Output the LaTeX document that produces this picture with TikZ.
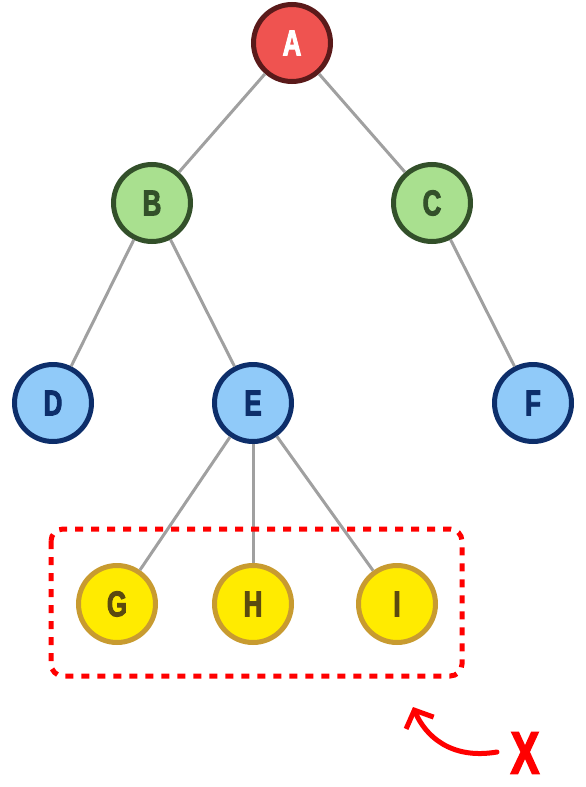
\documentclass[tikz,border=0pt]{standalone}
\usepackage{fontspec}
\newfontfamily\labelfont[FakeStretch=0.72, FakeBold=2.5]{Liberation Sans}
\usetikzlibrary{arrows.meta}
\definecolor{redfill}{HTML}{EF5350}
\definecolor{redline}{HTML}{5A1A1A}
\definecolor{greenfill}{HTML}{A9E08F}
\definecolor{greenline}{HTML}{33502A}
\definecolor{bluefill}{HTML}{90CAF9}
\definecolor{blueline}{HTML}{0D2E6A}
\definecolor{yellowfill}{HTML}{FFEB00}
\definecolor{yellowline}{HTML}{C89B30}
\definecolor{yellowtext}{HTML}{5B4A10}
\definecolor{edgegray}{HTML}{A0A0A0}
\definecolor{markred}{HTML}{FF0000}
\tikzset{
  treenode/.style={circle, minimum size=77pt, inner sep=0pt, line width=5pt,
    font=\labelfont\bfseries\fontsize{36}{36}\selectfont},
  rootnode/.style={treenode, draw=redline, fill=redfill, text=white},
  greennode/.style={treenode, draw=greenline, fill=greenfill, text=greenline},
  bluenode/.style={treenode, draw=blueline, fill=bluefill, text=blueline},
  leafnode/.style={treenode, draw=yellowline, fill=yellowfill, text=yellowtext},
  edge/.style={edgegray, line width=3pt}
}
\begin{document}
\begin{tikzpicture}[x=1pt, y=-1pt]
\useasboundingbox (0,0) rectangle (586,787);

% nodes
\node[rootnode] (A) at (292,43) {A};
\node[greennode] (B) at (152,203) {B};
\node[greennode] (C) at (432,203) {C};
\node[bluenode] (D) at (53,403) {D};
\node[bluenode] (E) at (253,403) {E};
\node[bluenode] (F) at (533,403) {F};
\node[leafnode] (G) at (117,604) {G};
\node[leafnode] (H) at (253,604) {H};
\node[leafnode] (I) at (397,604) {I};

% edges
\foreach \p/\c in {A/B, A/C, B/D, B/E, C/F, E/G, E/H, E/I}
  \draw[edge] (\p) -- (\c);

% selection box
\draw[markred, line width=5pt, dash pattern=on 8pt off 8pt, rounded corners=12pt]
  (51,529) rectangle (462,676);

% pointer
\coordinate (tail) at (497,752);
\coordinate (tip) at (413,707);
\draw[markred, line width=5pt, line cap=round,
  -{Straight Barb[length=14pt, width=30pt, line width=5pt]}]
  (tail) .. controls (450,760) and (425,735) .. (tip);
\node[text=markred, font=\labelfont\bfseries\fontsize{60}{60}\selectfont, inner sep=0pt]
  (cross) at (525,753) {X};

\end{tikzpicture}
\end{document}
